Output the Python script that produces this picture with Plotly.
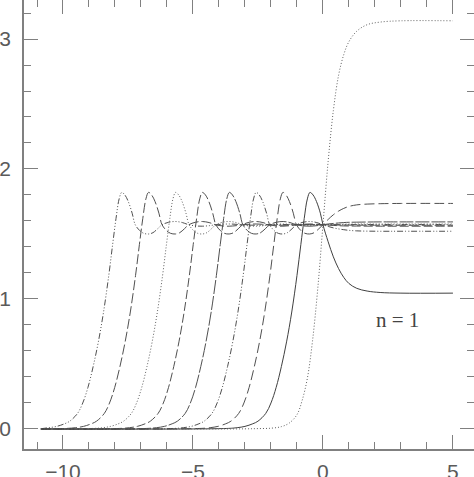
import plotly.graph_objects as go

# ---- data ----
x1 = [-10.85, -10.54, -10.24, -9.94, -9.74, -9.44, -9.24, -9.04, -8.84, -8.64, -8.44, -8.24, -8.09, -7.96, -7.84, -7.74,
      -7.62, -7.49, -7.34, -7.22, -7.04, -6.89, -6.71, -6.54, -6.36, -6.19, -5.94, -5.67, -5.41, -5.16, -4.89,
      -4.64, -4.37, -4.12, -3.60, -3.09, -2.57, -2.05, -1.54, -1.02, -0.50, 0.0, 1.0, 2.0, 5.0]
y1 = [0.002, 0.01, 0.02, 0.04, 0.06, 0.12, 0.2, 0.32, 0.48, 0.67, 0.9, 1.18, 1.42, 1.62, 1.77, 1.82,
      1.80, 1.75, 1.66, 1.571, 1.525, 1.505, 1.50, 1.51, 1.54, 1.571, 1.59, 1.596, 1.588, 1.571, 1.562,
      1.56, 1.564, 1.571, 1.577, 1.571, 1.567, 1.571, 1.573, 1.571, 1.570, 1.571, 1.572, 1.573, 1.573]

x2 = [-10.85, -9.91, -9.51, -9.21, -8.91, -8.71, -8.41, -8.21, -8.01, -7.81, -7.61, -7.41, -7.21, -7.06, -6.93, -6.81, -6.71,
      -6.59, -6.46, -6.31, -6.19, -6.01, -5.86, -5.68, -5.51, -5.33, -5.16, -4.91, -4.64, -4.38, -4.13, -3.86,
      -3.61, -3.34, -3.09, -2.57, -2.06, -1.54, -1.02, -0.51, 0.0, 0.6, 1.3, 2.2, 5.0]
y2 = [0.0, 0.004, 0.01, 0.02, 0.04, 0.06, 0.12, 0.2, 0.32, 0.48, 0.67, 0.9, 1.18, 1.42, 1.62, 1.77, 1.82,
      1.80, 1.75, 1.66, 1.571, 1.525, 1.505, 1.50, 1.51, 1.54, 1.571, 1.59, 1.596, 1.588, 1.571, 1.562,
      1.56, 1.564, 1.571, 1.577, 1.571, 1.567, 1.571, 1.573, 1.571, 1.569, 1.568, 1.567, 1.567]

x3 = [-10.85, -8.87, -8.47, -8.17, -7.87, -7.67, -7.37, -7.17, -6.97, -6.77, -6.57, -6.37, -6.17, -6.02, -5.89, -5.77, -5.67,
      -5.55, -5.42, -5.27, -5.15, -4.97, -4.82, -4.64, -4.47, -4.29, -4.12, -3.87, -3.60, -3.34, -3.09, -2.82,
      -2.57, -2.30, -2.05, -1.53, -1.02, -0.50, 0.0, 0.6, 1.3, 2.2, 5.0]
y3 = [0.0, 0.004, 0.01, 0.02, 0.04, 0.06, 0.12, 0.2, 0.32, 0.48, 0.67, 0.9, 1.18, 1.42, 1.62, 1.77, 1.82,
      1.80, 1.75, 1.66, 1.571, 1.525, 1.505, 1.50, 1.51, 1.54, 1.571, 1.59, 1.596, 1.588, 1.571, 1.562,
      1.56, 1.564, 1.571, 1.577, 1.571, 1.567, 1.571, 1.575, 1.577, 1.577, 1.577]

x4 = [-10.85, -7.84, -7.44, -7.14, -6.84, -6.64, -6.34, -6.14, -5.94, -5.74, -5.54, -5.34, -5.14, -4.99, -4.86, -4.74, -4.64,
      -4.52, -4.39, -4.24, -4.12, -3.94, -3.79, -3.61, -3.44, -3.26, -3.09, -2.84, -2.57, -2.31, -2.06, -1.79,
      -1.54, -1.27, -1.02, -0.50, 0.0, 0.4, 0.8, 1.3, 2.2, 5.0]
y4 = [0.0, 0.004, 0.01, 0.02, 0.04, 0.06, 0.12, 0.2, 0.32, 0.48, 0.67, 0.9, 1.18, 1.42, 1.62, 1.77, 1.82,
      1.80, 1.75, 1.66, 1.571, 1.525, 1.505, 1.50, 1.51, 1.54, 1.571, 1.59, 1.596, 1.588, 1.571, 1.562,
      1.56, 1.564, 1.571, 1.577, 1.571, 1.566, 1.562, 1.561, 1.560, 1.560]

x5 = [-10.85, -6.80, -6.40, -6.10, -5.80, -5.60, -5.30, -5.10, -4.90, -4.70, -4.50, -4.30, -4.10, -3.95, -3.82, -3.70, -3.60,
      -3.48, -3.35, -3.20, -3.08, -2.90, -2.75, -2.57, -2.40, -2.22, -2.05, -1.80, -1.53, -1.27, -1.02, -0.75,
      -0.50, -0.23, 0.0, 0.2, 0.4, 0.6, 0.8, 1.0, 1.3, 1.7, 2.2, 3.0, 5.0]
y5 = [0.0, 0.004, 0.01, 0.02, 0.04, 0.06, 0.12, 0.2, 0.32, 0.48, 0.67, 0.9, 1.18, 1.42, 1.62, 1.77, 1.82,
      1.80, 1.75, 1.66, 1.571, 1.525, 1.505, 1.50, 1.51, 1.54, 1.571, 1.59, 1.596, 1.588, 1.571, 1.562,
      1.56, 1.564, 1.571, 1.577, 1.581, 1.585, 1.588, 1.59, 1.591, 1.592, 1.593, 1.593, 1.593]

x6 = [-10.85, -5.77, -5.37, -5.07, -4.77, -4.57, -4.27, -4.07, -3.87, -3.67, -3.47, -3.27, -3.07, -2.92, -2.79, -2.67, -2.57,
      -2.45, -2.32, -2.17, -2.05, -1.87, -1.72, -1.54, -1.37, -1.19, -1.02, -0.77, -0.50, -0.24,
      0.0, 0.2, 0.4, 0.6, 0.8, 1.0, 1.3, 1.7, 2.2, 3.0, 5.0]
y6 = [0.0, 0.004, 0.01, 0.02, 0.04, 0.06, 0.12, 0.2, 0.32, 0.48, 0.67, 0.9, 1.18, 1.42, 1.62, 1.77, 1.82,
      1.80, 1.75, 1.66, 1.571, 1.525, 1.505, 1.50, 1.51, 1.54, 1.571, 1.59, 1.596, 1.588,
      1.571, 1.558, 1.547, 1.539, 1.533, 1.528, 1.524, 1.522, 1.521, 1.521, 1.521]

x7 = [-10.85, -4.74, -4.34, -4.04, -3.74, -3.54, -3.24, -3.04, -2.84, -2.64, -2.44, -2.24, -2.04, -1.89, -1.76, -1.64, -1.54,
      -1.42, -1.29, -1.14, -1.02, -0.84, -0.69, -0.51, -0.34, -0.16,
      0.0, 0.2, 0.4, 0.6, 0.8, 1.0, 1.3, 1.7, 2.2, 3.0, 5.0]
y7 = [0.0, 0.004, 0.01, 0.02, 0.04, 0.06, 0.12, 0.2, 0.32, 0.48, 0.67, 0.9, 1.18, 1.42, 1.62, 1.77, 1.82,
      1.80, 1.75, 1.66, 1.571, 1.525, 1.505, 1.50, 1.51, 1.54,
      1.571, 1.612, 1.648, 1.676, 1.697, 1.712, 1.724, 1.73, 1.733, 1.735, 1.735]

x8 = [-10.85, -3.70, -3.30, -3.00, -2.70, -2.50, -2.20, -2.00, -1.80, -1.60, -1.40, -1.20, -1.00, -0.85, -0.72, -0.60, -0.50,
      -0.38, -0.25, -0.10, 0.0, 0.2, 0.4, 0.6, 0.8, 1.0, 1.3, 1.7, 2.2, 3.0, 5.0]
y8 = [0.0, 0.004, 0.01, 0.02, 0.04, 0.06, 0.12, 0.2, 0.32, 0.48, 0.67, 0.9, 1.18, 1.42, 1.62, 1.77, 1.82,
      1.80, 1.75, 1.66, 1.571, 1.44, 1.324, 1.234, 1.166, 1.119, 1.082, 1.061, 1.050, 1.045, 1.045]

x9 = [-10.85, -4.0, -3.0, -2.5, -2.0, -1.6, -1.3, -1.0, -0.8, -0.6, -0.4, -0.2, 0.0, 0.2, 0.4, 0.6, 0.8, 1.0,
      1.3, 1.7, 2.2, 3.0, 5.0]
y9 = [0.0, 0.0, 0.001, 0.003, 0.006, 0.018, 0.045, 0.11, 0.22, 0.39, 0.68, 1.08, 1.571, 2.06, 2.45, 2.72, 2.88, 2.98,
      3.06, 3.11, 3.13, 3.14, 3.14]

x_tick_vals = [-10, -5, 0, 5]
x_tick_text = ["\u221210", "\u22125", "0", "5"]
y_tick_vals = [0, 1, 2, 3]
y_tick_text = ["0", "1", "2", "3"]
label_text = "n = 1"
label_pos = (2.85, 0.84)

series = [
    (x1, y1, "6px,2px,1px,2px,1px,2px,1px,2px", "#505050"),
    (x2, y2, "10px,3px", "#505050"),
    (x3, y3, "1px,2px", "#606060"),
    (x4, y4, "9px,3px", "#505050"),
    (x5, y5, "14px,2px", "#505050"),
    (x6, y6, "6px,2px,1px,2px,1px,2px", "#505050"),
    (x7, y7, "10px,4px", "#505050"),
    (x8, y8, "solid", "#404040"),
    (x9, y9, "1px,2px", "#606060"),
]

fig = go.Figure()
for xs, ys, dash, col in series:
    fig.add_trace(go.Scatter(x=xs, y=ys, mode="lines",
                             line=dict(color=col, width=1, dash=dash, shape="spline", smoothing=1.0),
                             showlegend=False, hoverinfo="skip"))

# dummy trace to activate the mirror axes (top/right ticks)
fig.add_trace(go.Scatter(x=[0], y=[0], xaxis="x2", yaxis="y2", mode="markers",
                         marker=dict(opacity=0), showlegend=False, hoverinfo="skip"))

XR = [-11.5, 5.81]
YR = [-0.154, 3.3]
tickcol = "#808080"
fontcol = "#5a5a5a"
tfont = dict(family="Liberation Sans, Arial, sans-serif", size=21, color=fontcol)

fig.update_layout(
    width=474, height=477,
    margin=dict(l=24, r=0, t=0, b=28, autoexpand=False),
    paper_bgcolor="white", plot_bgcolor="white",
    xaxis=dict(range=XR, showgrid=False, zeroline=False, showline=True, linecolor=tickcol, linewidth=1.5,
               automargin=False,
               ticks="inside", ticklen=14, tickwidth=1.3, tickcolor=tickcol,
               tickvals=x_tick_vals, ticktext=x_tick_text, tickfont=tfont, ticklabelstandoff=3,
               minor=dict(dtick=1, tick0=0, ticks="inside", ticklen=7, tickwidth=1.3, tickcolor=tickcol)),
    yaxis=dict(range=YR, showgrid=False, zeroline=False, showline=True, linecolor=tickcol, linewidth=1.5,
               automargin=False,
               ticks="inside", ticklen=14, tickwidth=1.3, tickcolor=tickcol,
               tickvals=y_tick_vals, ticktext=y_tick_text, tickfont=tfont, ticklabelstandoff=7,
               minor=dict(dtick=0.2, tick0=0, ticks="inside", ticklen=7, tickwidth=1.3, tickcolor=tickcol)),
    xaxis2=dict(range=XR, overlaying="x", side="top", showgrid=False, zeroline=False, showline=False,
                automargin=False,
                ticks="inside", ticklen=14, tickwidth=1.3, tickcolor=tickcol, dtick=5, tick0=0,
                showticklabels=False,
                minor=dict(dtick=1, tick0=0, ticks="inside", ticklen=7, tickwidth=1.3, tickcolor=tickcol)),
    yaxis2=dict(range=YR, overlaying="y", side="right", showgrid=False, zeroline=False, showline=False,
                automargin=False,
                ticks="inside", ticklen=14, tickwidth=1.3, tickcolor=tickcol, dtick=1, tick0=0,
                showticklabels=False,
                minor=dict(dtick=0.2, tick0=0, ticks="inside", ticklen=7, tickwidth=1.3, tickcolor=tickcol)),
    annotations=[dict(x=label_pos[0], y=label_pos[1], text=label_text, showarrow=False,
                      font=dict(family="Liberation Serif, Times New Roman, serif", size=21, color="#444"),
                      xanchor="center", yanchor="middle")],
)

fig.write_html("out.html", config={"displayModeBar": False},
               post_script="document.body.style.margin='0px';")
